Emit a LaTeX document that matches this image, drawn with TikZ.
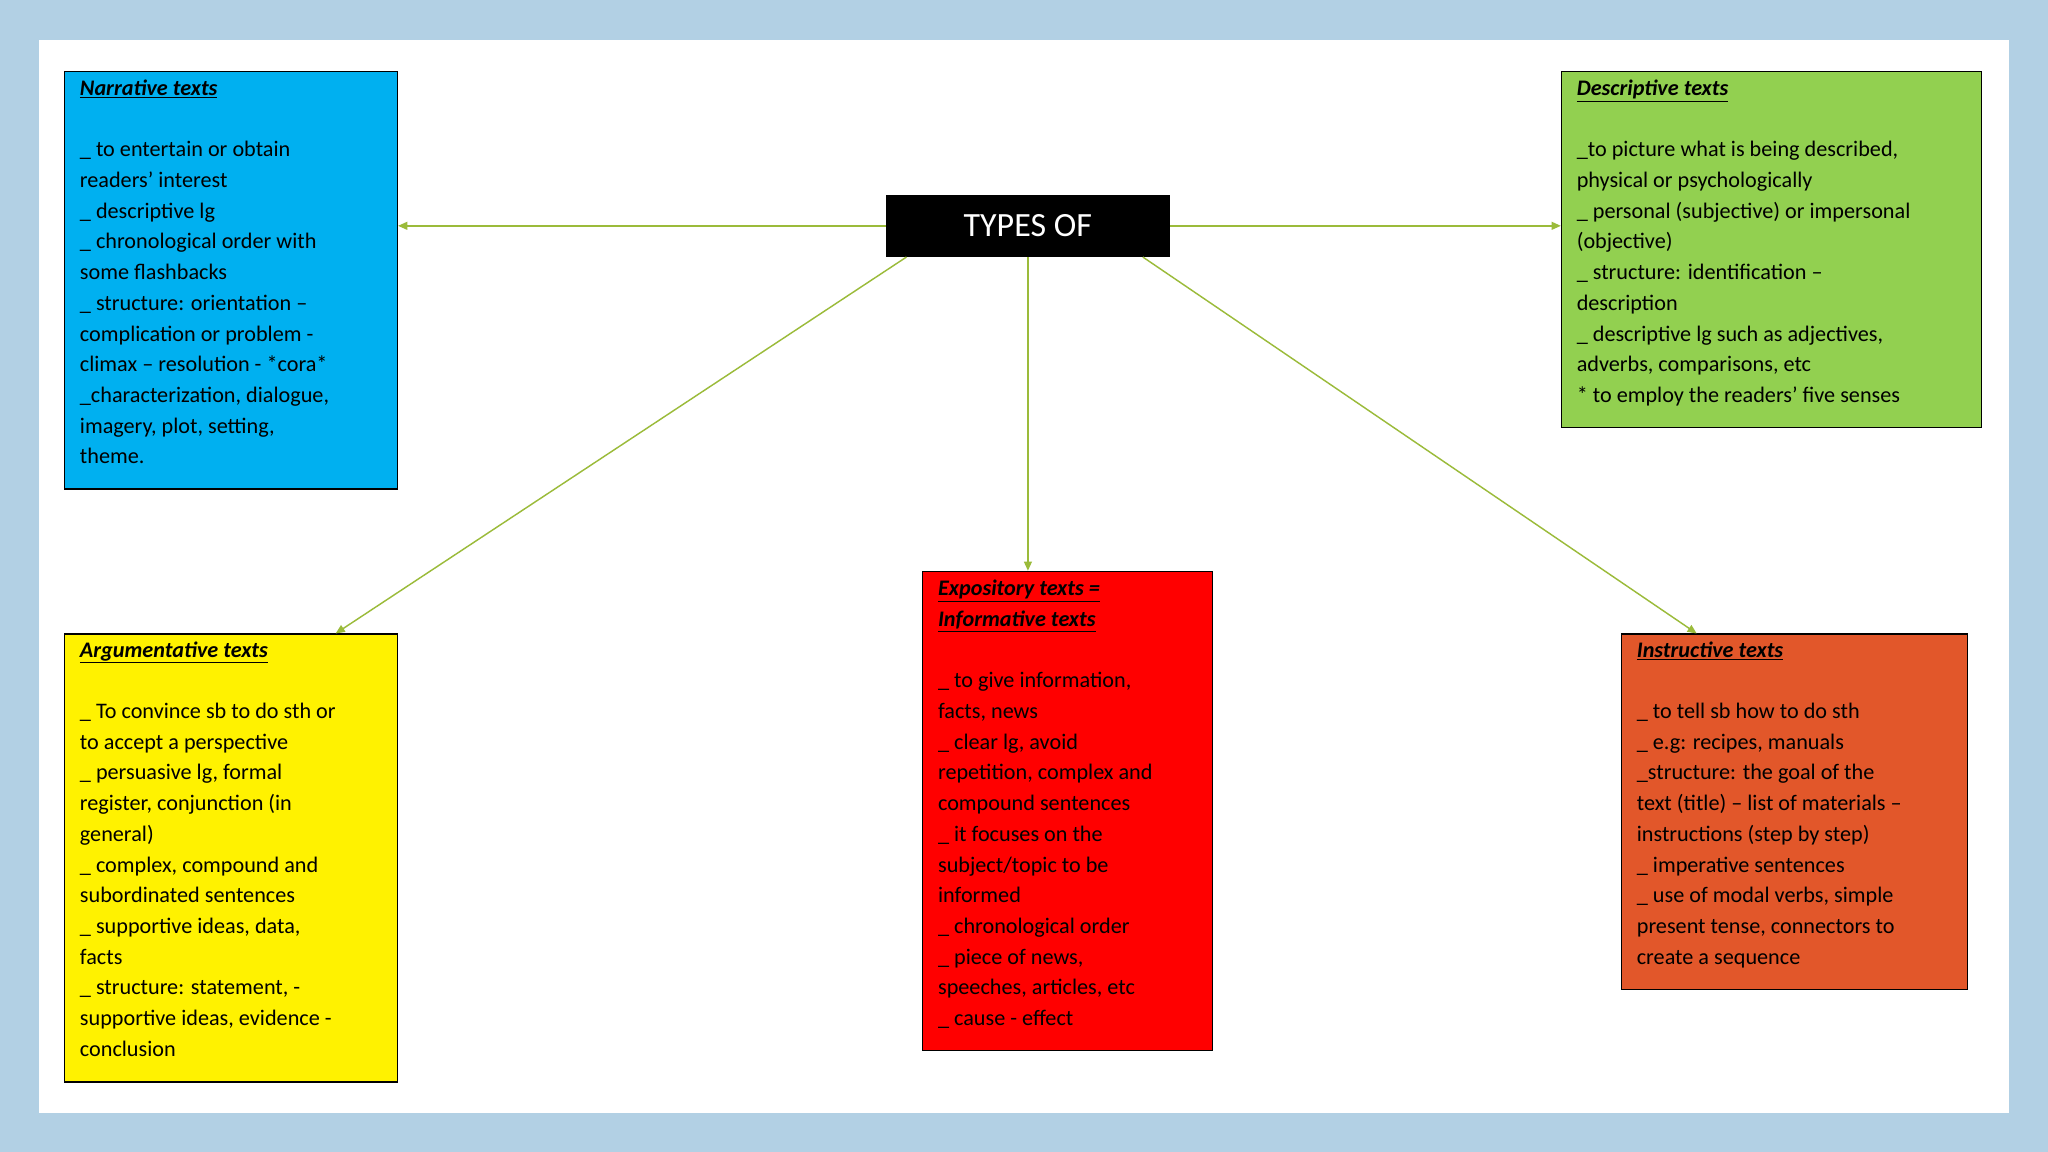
\documentclass[tikz,border=0pt]{standalone}
\usepackage{fontspec}
\setmainfont{Carlito}
\usetikzlibrary{calc,arrows.meta}
\begin{document}
\begin{tikzpicture}[x=1pt,y=-1pt,
  box/.style={draw=black,line width=0.8pt,anchor=north west,inner sep=0pt},
  txt/.style={anchor=north west,inner sep=0pt,align=left,font=\fontsize{17}{23.5}\selectfont},
  conn/.style={draw=green!40!olive!80!white,line width=1.1pt,-{Triangle[length=7pt,width=6pt]}}]
\definecolor{bgblue}{HTML}{B2D0E4}
\definecolor{nblue}{HTML}{00B0F0}
\definecolor{dgreen}{HTML}{92D050}
\definecolor{iorange}{HTML}{E2572A}
\definecolor{acol}{HTML}{9BBB3A}
\tikzset{conn/.append style={draw=acol,fill=acol}}
\useasboundingbox (0,0) rectangle (1568,882);
\fill[bgblue] (0,0) rectangle (1568,882);
\fill[white] (30,31) rectangle (1538,852);
\newcommand{\ttl}[1]{\textbf{\textit{\underline{#1}}}}
\node[box,fill=nblue,minimum width=255,minimum height=320] (narr) at (49,54) {};
\node[box,fill=dgreen,minimum width=322,minimum height=273] (desc) at (1195,54) {};
\node[box,fill=yellow,minimum width=255,minimum height=343] (arg) at (49,485) {};
\node[box,fill=red,minimum width=222,minimum height=367] (expo) at (706,437) {};
\node[box,fill=iorange,minimum width=265,minimum height=272] (inst) at (1241,485) {};
\node[box,fill=black,minimum width=217,minimum height=47,text=white,font=\fontsize{26}{30}\selectfont] (types) at (678,149) {};
\node[text=white,font=\fontsize{26}{30}\selectfont] (typest) at (types.center) {TYPES OF};
\node[txt] (narrt) at (61,61) {\ttl{Narrative texts}\\[23.5pt]
\_ to entertain or obtain\\readers’ interest\\\_ descriptive lg\\\_ chronological order with\\some flashbacks\\\_ structure: orientation –\\complication or problem -\\climax – resolution - *cora*\\\_characterization, dialogue,\\imagery, plot, setting,\\theme.};
\node[txt] (desct) at (1207,61) {\ttl{Descriptive texts}\\[23.5pt]
\_to picture what is being described,\\physical or psychologically\\\_ personal (subjective) or impersonal\\(objective)\\\_ structure: identification –\\description\\\_ descriptive lg such as adjectives,\\adverbs, comparisons, etc\\* to employ the readers’ five senses};
\node[txt] (argt) at (61,491) {\ttl{Argumentative texts}\\[23.5pt]
\_ To convince sb to do sth or\\to accept a perspective\\\_ persuasive lg, formal\\register, conjunction (in\\general)\\\_ complex, compound and\\subordinated sentences\\\_ supportive ideas, data,\\facts\\\_ structure: statement, -\\supportive ideas, evidence -\\conclusion};
\node[txt] (expot) at (718,444) {\ttl{Expository texts =}\\\ttl{Informative texts}\\[23.5pt]
\_ to give information,\\facts, news\\\_ clear lg, avoid\\repetition, complex and\\compound sentences\\\_ it focuses on the\\subject/topic to be\\informed\\\_ chronological order\\\_ piece of news,\\speeches, articles, etc\\\_ cause - effect};
\node[txt] (instt) at (1253,491) {\ttl{Instructive texts}\\[23.5pt]
\_ to tell sb how to do sth\\\_ e.g: recipes, manuals\\\_structure: the goal of the\\text (title) – list of materials –\\instructions (step by step)\\\_ imperative sentences\\\_ use of modal verbs, simple\\present tense, connectors to\\create a sequence};
\draw[conn] (types.west) -- (types.west -| narr.east);
\draw[conn] (types.east) -- (types.east -| desc.west);
\draw[conn] ($(types.south west)+(16,0)$) -- ($(arg.north west)+(208,0)$);
\draw[conn] ($(types.south west)+(109,0)$) -- ($(expo.north west)+(81,0)$);
\draw[conn] ($(types.south west)+(197,0)$) -- ($(inst.north west)+(58,0)$);
\end{tikzpicture}
\end{document}
